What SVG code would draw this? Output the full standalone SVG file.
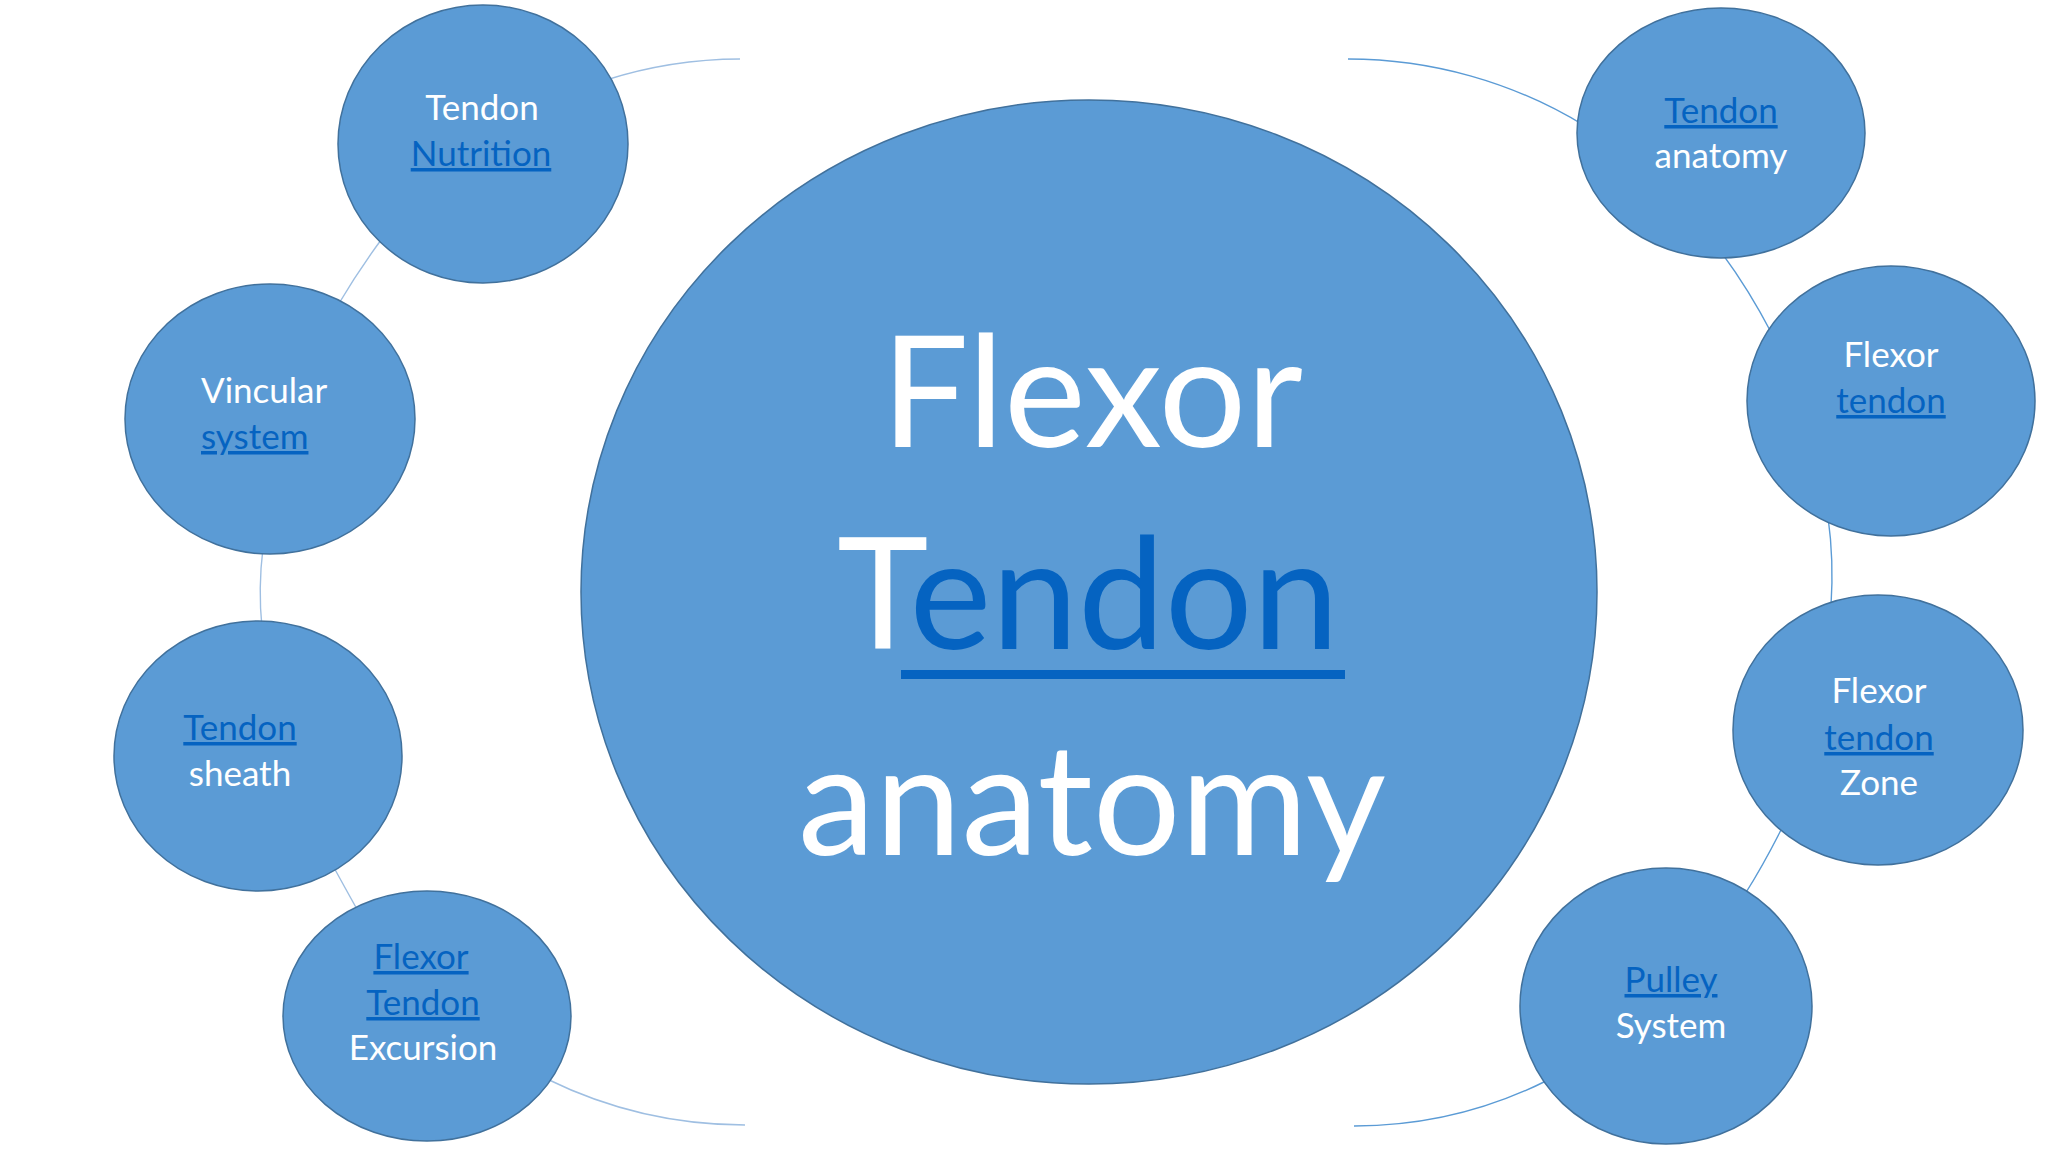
<svg xmlns="http://www.w3.org/2000/svg" width="2048" height="1152" viewBox="0 0 2048 1152">
<style>
.bub{fill:#5b9bd5;stroke:#41719c;stroke-width:1.5}
.t{font-family:Lato,"Open Sans","Liberation Sans",sans-serif;font-size:35px;fill:#ffffff;text-anchor:middle}
.tl{font-family:Lato,"Open Sans","Liberation Sans",sans-serif;font-size:35px;fill:#ffffff}
.lk{fill:#0563c1;text-decoration:underline}
.lkb{fill:#0563c1}
.big{font-family:Lato,"Open Sans","Liberation Sans",sans-serif;font-size:155px;fill:#ffffff;text-anchor:middle}
.c1{fill:none;stroke:#5b9bd5;stroke-width:1.4}
.c2{fill:none;stroke:#9fbfe2;stroke-width:1.4}
</style>
<rect width="2048" height="1152" fill="#ffffff"/>
<g id="connectors">
<path class="c2" d="M606,80 A445,445 0 0 1 740,59"/>
<path class="c1" d="M1348,59 A453,453 0 0 1 1585,126"/>
<path class="c2" d="M384,236 Q360,268 338,305"/>
<path class="c2" d="M263,548 Q258,588 262,628"/>
<path class="c2" d="M332,864 Q344,886 358,911"/>
<path class="c2" d="M547,1079 A450,450 0 0 0 745,1125"/>
<path class="c1" d="M1354,1126 A430,430 0 0 0 1548,1080"/>
<path class="c1" d="M1745,894 Q1764,864 1784,824"/>
<path class="c1" d="M1828,517 Q1834,560 1831,606"/>
<path class="c1" d="M1721,252 Q1748,288 1772,334"/>
</g>
<g id="center">
<ellipse class="bub" cx="1089" cy="592" rx="508" ry="492"/>
<text class="big" x="1092" y="447">Flexor</text>
<text class="big" x="1088" y="649"><tspan>T</tspan><tspan class="lkb">endon</tspan></text>
<rect x="901" y="670" width="444" height="9" fill="#0563c1"/>
<text class="big" x="1092" y="855">anatomy</text>
</g>
<g id="node-tendon-nutrition">
<ellipse class="bub" cx="483" cy="144" rx="145" ry="139"/>
<text class="t" x="482" y="120">Tendon</text>
<text class="t" x="481" y="166"><tspan class="lk">Nutrition</tspan></text>
</g>
<g id="node-vincular-system">
<ellipse class="bub" cx="270" cy="419" rx="145" ry="135"/>
<text class="tl" x="201" y="403">Vincular</text>
<text class="tl" x="201" y="449"><tspan class="lk">system</tspan></text>
</g>
<g id="node-tendon-sheath">
<ellipse class="bub" cx="258" cy="756" rx="144" ry="135"/>
<text class="t" x="240" y="740"><tspan class="lk">Tendon</tspan></text>
<text class="t" x="240" y="786">sheath</text>
</g>
<g id="node-flexor-tendon-excursion">
<ellipse class="bub" cx="427" cy="1016" rx="144" ry="125"/>
<text class="t" x="421" y="969"><tspan class="lk">Flexor</tspan></text>
<text class="t" x="423" y="1015"><tspan class="lk">Tendon</tspan></text>
<text class="t" x="423" y="1060">Excursion</text>
</g>
<g id="node-tendon-anatomy">
<ellipse class="bub" cx="1721" cy="133" rx="144" ry="125"/>
<text class="t" x="1721" y="123"><tspan class="lk">Tendon</tspan></text>
<text class="t" x="1721" y="168">anatomy</text>
</g>
<g id="node-flexor-tendon">
<ellipse class="bub" cx="1891" cy="401" rx="144" ry="135"/>
<text class="t" x="1891" y="367">Flexor</text>
<text class="t" x="1891" y="413"><tspan class="lk">tendon</tspan></text>
</g>
<g id="node-flexor-tendon-zone">
<ellipse class="bub" cx="1878" cy="730" rx="145" ry="135"/>
<text class="t" x="1879" y="703">Flexor</text>
<text class="t" x="1879" y="750"><tspan class="lk">tendon</tspan></text>
<text class="t" x="1879" y="795">Zone</text>
</g>
<g id="node-pulley-system">
<ellipse class="bub" cx="1666" cy="1006" rx="146" ry="138"/>
<text class="t" x="1671" y="992"><tspan class="lk">Pulley</tspan></text>
<text class="t" x="1671" y="1038">System</text>
</g>
</svg>
